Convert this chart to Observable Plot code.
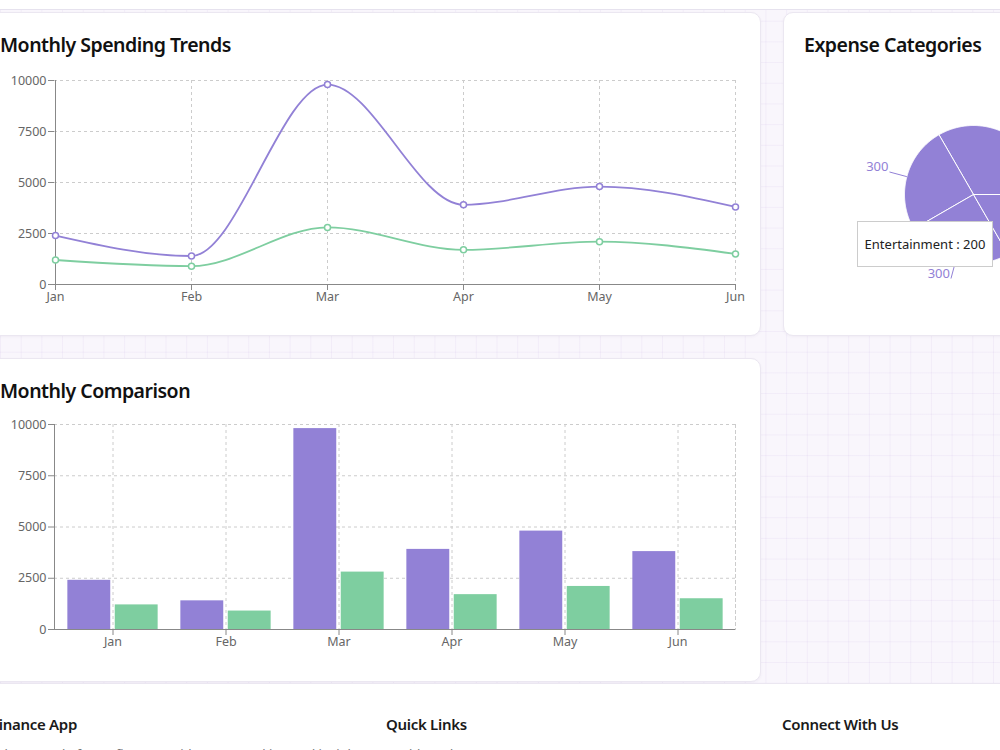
<!DOCTYPE html>
<html>
<head>
<meta charset="utf-8">
<script src="https://cdn.jsdelivr.net/npm/d3@7"></script>
<script src="https://cdn.jsdelivr.net/npm/@observablehq/plot@0.6"></script>
<style>
  html, body { margin: 0; padding: 0; width: 1000px; height: 750px; overflow: hidden; }
  body {
    position: relative;
    font-family: "Noto Sans", "Open Sans", sans-serif;
    background-color: #f9f6fc;
    background-image:
      linear-gradient(rgba(150, 110, 200, 0.07) 1px, transparent 1px),
      linear-gradient(90deg, rgba(150, 110, 200, 0.07) 1px, transparent 1px);
    background-size: 20.7px 20.7px;
  }
  .topbar { position: absolute; left: 0; top: 0; width: 1000px; height: 9px; background: #fff; border-bottom: 1px solid #e6e2ee; }
  .card { position: absolute; background: #fff; border: 1px solid #ebe7f1; border-radius: 10px; box-shadow: 0 1px 3px rgba(80, 60, 120, 0.05); }
  .title { position: absolute; margin: 0; font-size: 19.5px; letter-spacing: -0.5px; line-height: 1; font-weight: 600; color: #111; white-space: nowrap; }
  .chart { position: absolute; }
  .chart svg { overflow: visible; max-width: none !important; }
  .tooltip { position: absolute; box-sizing: border-box; background: #fff; border: 1px solid #ccc; font-size: 13px; color: #222; display: flex; align-items: center; justify-content: center; white-space: nowrap; }
  .footer { position: absolute; left: 0; top: 683px; width: 1000px; height: 67px; background: #fff; border-top: 1px solid #ebe7f1; }
  .footer h3 { position: absolute; margin: 0; font-size: 15px; letter-spacing: -0.3px; line-height: 1; font-weight: 600; color: #1a1a1a; white-space: nowrap; }
  .footer p { position: absolute; margin: 0; font-size: 13px; line-height: 1; color: #777; white-space: nowrap; }
</style>
</head>
<body>
<div class="topbar"></div>

<div class="card" style="left:-22px; top:12px; width:781px; height:322px;"></div>
<div class="title" style="left:0px; top:35px;">Monthly Spending Trends</div>
<div class="chart" id="trend" style="left:0px; top:66px; width:760px;"></div>

<div class="card" style="left:783px; top:12px; width:260px; height:322px;"></div>
<div class="title" style="left:804px; top:35px;">Expense Categories</div>
<div class="chart" id="pie" style="left:800px; top:80px; width:360px;"></div>
<div class="tooltip" id="tip" style="left:857px; top:221px; width:136px; height:46px;"></div>

<div class="card" style="left:-22px; top:358px; width:781px; height:322px;"></div>
<div class="title" style="left:0px; top:381px;">Monthly Comparison</div>
<div class="chart" id="bars" style="left:0px; top:412px; width:760px;"></div>

<div class="footer">
  <h3 style="left:-9px; top:33px;">Finance App</h3>
  <h3 style="left:386px; top:33px;">Quick Links</h3>
  <h3 style="left:782px; top:33px;">Connect With Us</h3>
  <p style="left:-9px; top:64px;">Take control of your finances with smart tracking and insights.</p>
  <p style="left:386px; top:64px;">Dashboard</p>
</div>

<script>
// Monthly figures
const months = ["Jan", "Feb", "Mar", "Apr", "May", "Jun"];
const spending = [2400, 1398, 9800, 3908, 4800, 3800];
const savings = [1200, 900, 2800, 1700, 2100, 1500];
const yTicks = [0, 2500, 5000, 7500, 10000];

// Expense categories
const categories = ["Housing", "Food", "Transport", "Entertainment"];
const categoryValues = [400, 300, 300, 200];

const PURPLE = "#9281d6";
const GREEN = "#7ecea0";
const FONT = "'Noto Sans', 'Open Sans', sans-serif";

const rows = months.flatMap((m, i) => [
  {month: m, value: spending[i], series: "Spending"},
  {month: m, value: savings[i], series: "Savings"}
]);

const axisStyle = {fontFamily: FONT, fontSize: "12.5px", color: "#666", background: "transparent", overflow: "visible"};
const gridOpts = {stroke: "#ccc", strokeOpacity: 1, strokeDasharray: "3 3"};

// Line chart: spending vs savings, monotone curves with hollow markers
const trend = Plot.plot({
  width: 760, height: 244,
  marginLeft: 54, marginRight: 25, marginTop: 14, marginBottom: 26,
  style: axisStyle,
  x: {type: "point", domain: months, padding: 0, label: null},
  y: {domain: [0, 10000], label: null},
  color: {domain: ["Spending", "Savings"], range: [PURPLE, GREEN]},
  marks: [
    Plot.gridY(yTicks, gridOpts),
    Plot.gridX(months, gridOpts),
    Plot.axisY(yTicks, {tickSize: 6, tickPadding: 2, tickFormat: d => String(d), label: null, color: "#666", stroke: "#888"}),
    Plot.axisX(months, {tickSize: 6, tickPadding: 2, label: null, color: "#666", stroke: "#888"}),
    Plot.ruleY([0], {stroke: "#888"}),
    Plot.ruleX([months[0]], {stroke: "#888"}),
    Plot.line(rows, {x: "month", y: "value", z: "series", stroke: "series", curve: "monotone-x", strokeWidth: 1.8}),
    Plot.dot(rows, {x: "month", y: "value", stroke: "series", fill: "white", r: 3, strokeWidth: 1.5})
  ]
});
document.getElementById("trend").appendChild(trend);

// Grouped bar chart: each month split into two side-by-side bars
const band = (760 - 54 - 25) / months.length;
const outer = band * 0.1;
const half = band / 2;
const bars = Plot.plot({
  width: 760, height: 244,
  marginLeft: 54, marginRight: 25, marginTop: 12, marginBottom: 27,
  style: axisStyle,
  x: {type: "band", domain: months, padding: 0, label: null},
  y: {domain: [0, 10000], label: null},
  marks: [
    Plot.gridY(yTicks, gridOpts),
    Plot.gridX(months, gridOpts),
    Plot.frame({anchor: "right", ...gridOpts}),
    Plot.barY(months.map((m, i) => ({month: m, value: spending[i]})), {x: "month", y: "value", fill: PURPLE, insetLeft: outer, insetRight: half + 2}),
    Plot.barY(months.map((m, i) => ({month: m, value: savings[i]})), {x: "month", y: "value", fill: GREEN, insetLeft: half + 2, insetRight: outer}),
    Plot.axisY(yTicks, {tickSize: 6, tickPadding: 2, tickFormat: d => String(d), label: null, color: "#666", stroke: "#888"}),
    Plot.axisX(months, {tickSize: 6, tickPadding: 2, label: null, color: "#666", stroke: "#888"}),
    Plot.ruleY([0], {stroke: "#888"}),
    Plot.frame({anchor: "left", stroke: "#888"})
  ]
});
document.getElementById("bars").appendChild(bars);

// Pie chart: slices laid out counter-clockwise from 3 o'clock, in unit coordinates
const W = 360, H = 240, CX = 173, CY = 114, R = 69;
const arcs = d3.pie().sort(null)(categoryValues);
const slices = arcs.flatMap((a, i) => {
  const pts = [{cat: categories[i], x: 0, y: 0}];
  const steps = Math.max(2, Math.ceil((a.endAngle - a.startAngle) / 0.01));
  for (let k = 0; k <= steps; k++) {
    const t = a.startAngle + (a.endAngle - a.startAngle) * k / steps;
    pts.push({cat: categories[i], x: Math.cos(t), y: Math.sin(t)});
  }
  pts.push({cat: categories[i], x: 0, y: 0});
  return pts;
});
// Leader lines run from the rim outward; labels sit at the outer end
const lineR = (R + 18) / R;
const labels = arcs.map((a, i) => {
  const m = (a.startAngle + a.endAngle) / 2;
  return {
    value: categoryValues[i],
    x1: Math.cos(m), y1: Math.sin(m),
    x2: Math.cos(m) * lineR, y2: Math.sin(m) * lineR,
    anchor: Math.cos(m) >= 0 ? "start" : "end"
  };
});
const pie = Plot.plot({
  width: W, height: H,
  margin: 0,
  style: {fontFamily: FONT, fontSize: "13px", background: "transparent", overflow: "visible"},
  x: {domain: [-CX / R, (W - CX) / R], range: [0, W], axis: null},
  y: {domain: [-(H - CY) / R, CY / R], range: [H, 0], axis: null},
  marks: [
    Plot.line(slices, {x: "x", y: "y", z: "cat", fill: PURPLE, stroke: "white", strokeWidth: 1, curve: "linear"}),
    Plot.link(labels, {x1: "x1", y1: "y1", x2: "x2", y2: "y2", stroke: PURPLE, strokeWidth: 1}),
    Plot.text(labels.filter(d => d.anchor === "end"), {x: "x2", y: "y2", text: d => String(d.value), fill: PURPLE, textAnchor: "end", dx: -1, dy: -5}),
    Plot.text(labels.filter(d => d.anchor === "start"), {x: "x2", y: "y2", text: d => String(d.value), fill: PURPLE, textAnchor: "start", dx: 1, dy: -5})
  ]
});
document.getElementById("pie").appendChild(pie);

// Hover tooltip for the Entertainment slice
const ti = categories.indexOf("Entertainment");
document.getElementById("tip").textContent = `${categories[ti]} : ${categoryValues[ti]}`;
</script>
</body>
</html>
